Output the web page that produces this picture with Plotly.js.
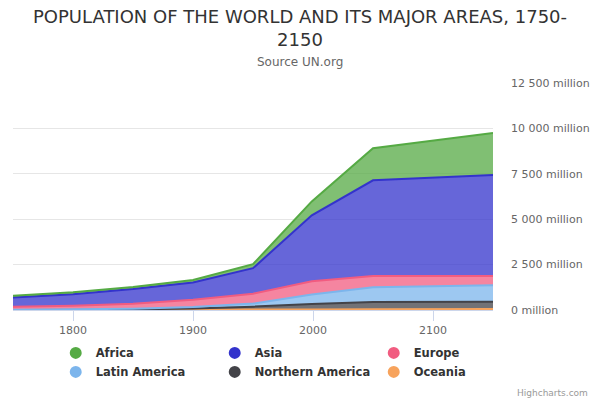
<!DOCTYPE html>
<html>
<head>
<meta charset="utf-8">
<script src="https://cdn.plot.ly/plotly-3.0.1.min.js"></script>
<style>html,body{margin:0;padding:0;background:#fff;}#chart{width:600px;height:400px;}</style>
</head>
<body>
<div id="chart"></div>
<script>
// Data (millions) — UN.org, World population 1750-2150
const years = [1750, 1800, 1850, 1900, 1950, 1999, 2050, 2150];
const seriesNames = ['Africa', 'Asia', 'Europe', 'Latin America', 'Northern America', 'Oceania'];
const africa = [106, 107, 111, 133, 221, 767, 1766, 2308];
const asia = [502, 635, 809, 947, 1402, 3634, 5268, 5561];
const europe = [163, 203, 276, 408, 547, 729, 628, 517];
const latinAmerica = [16, 24, 38, 74, 167, 511, 809, 912];
const northernAmerica = [2, 7, 26, 82, 172, 307, 392, 398];
const oceania = [2, 2, 2, 6, 13, 30, 46, 51];
const xTicks = [1800, 1900, 2000, 2100];
const yTicks = [0, 2500, 5000, 7500, 10000, 12500];
const yTickLabels = ['0 million', '2 500 million', '5 000 million', '7 500 million', '10 000 million', '12 500 million'];

const values = [africa, asia, europe, latinAmerica, northernAmerica, oceania];
const lineColors = ['#55aa44', '#3333cc', '#f15c80', '#7cb5ec', '#434348', '#f7a35c'];
function rgba(hex, a) {
  const r = parseInt(hex.slice(1,3),16), g = parseInt(hex.slice(3,5),16), b = parseInt(hex.slice(5,7),16);
  return 'rgba(' + r + ',' + g + ',' + b + ',' + a + ')';
}

const traces = [];
// stacked areas: bottom first (Oceania) to top (Africa)
for (let i = seriesNames.length - 1; i >= 0; i--) {
  traces.push({
    x: years, y: values[i], name: seriesNames[i], type: 'scatter', mode: 'lines',
    stackgroup: 'one', line: {color: lineColors[i], width: 2},
    fillcolor: rgba(lineColors[i], 0.75), showlegend: false, hoverinfo: 'x+y+name'
  });
}
// legend entries with circle symbols, in legend order
for (let i = 0; i < seriesNames.length; i++) {
  traces.push({
    x: [null], y: [null], name: seriesNames[i], type: 'scatter', mode: 'markers',
    marker: {color: lineColors[i], size: 12, symbol: 'circle'}, showlegend: true
  });
}

const layout = {
  width: 600, height: 400,
  margin: {l: 13, r: 107, t: 83, b: 90},
  paper_bgcolor: '#fff', plot_bgcolor: '#fff',
  font: {family: 'DejaVu Sans, sans-serif', color: '#333'},
  title: {
    text: 'POPULATION OF THE WORLD AND ITS MAJOR AREAS, 1750-<br>2150',
    x: 0.5, xref: 'container', xanchor: 'center', y: 1, yref: 'paper', yanchor: 'bottom',
    pad: {b: 60},
    font: {family: 'DejaVu Sans, sans-serif', size: 18, color: '#333'}
  },
  xaxis: {
    range: [1750, 2150], tickvals: xTicks, ticktext: xTicks.map(String),
    showgrid: false, zeroline: false, showline: true, linecolor: '#ccd6eb', linewidth: 1,
    ticks: 'outside', ticklen: 10, tickcolor: '#ccd6eb',
    tickfont: {family: 'DejaVu Sans, sans-serif', size: 11, color: '#666'}, fixedrange: true
  },
  yaxis: {
    range: [0, 12500], side: 'right', tickvals: yTicks, ticktext: yTickLabels,
    showgrid: true, gridcolor: '#e6e6e6', zeroline: false, showline: false, ticks: '',
    ticklabelstandoff: 17,
    tickfont: {family: 'DejaVu Sans, sans-serif', size: 11, color: '#666'}, fixedrange: true
  },
  legend: {
    orientation: 'h', x: 0.089, xanchor: 'left', y: -0.125, yanchor: 'top',
    entrywidth: 114, entrywidthmode: 'pixels', traceorder: 'normal',
    font: {family: 'DejaVu Sans, sans-serif', size: 11.5, color: '#333', weight: 'bold'},
    itemsizing: 'constant', tracegroupgap: 0, bgcolor: 'rgba(0,0,0,0)'
  },
  annotations: [
    {text: 'Source UN.org', xref: 'paper', yref: 'paper', x: 0.598, y: 1, xanchor: 'center', yanchor: 'bottom',
     yshift: 12, showarrow: false, font: {family: 'DejaVu Sans, sans-serif', size: 12, color: '#666'}},
    {text: 'Highcharts.com', xref: 'paper', yref: 'paper', x: 1, y: 0, xanchor: 'right', yanchor: 'top',
     xshift: 97, yshift: -76, showarrow: false, font: {family: 'DejaVu Sans, sans-serif', size: 9, color: '#999'}}
  ],
  showlegend: true
};

Plotly.newPlot('chart', traces, layout, {displayModeBar: false, staticPlot: true});
</script>
</body>
</html>
